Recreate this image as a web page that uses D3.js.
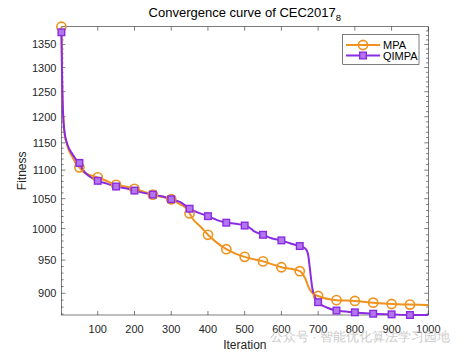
<!DOCTYPE html>
<html><head><meta charset="utf-8">
<script src="https://cdn.jsdelivr.net/npm/d3@7"></script>
<style>body{margin:0;background:#fff}svg{display:block}text{font-family:"Liberation Sans",Arial,Helvetica,sans-serif}</style>
</head><body>
<svg id="c" width="474" height="355"></svg>
<script>
const mpaIter = [1,2,3,4,6,8,10,15,20,30,40,50,60,75,100,120,150,175,200,225,250,275,300,320,340,350,360,380,400,425,450,475,500,550,600,650,655,665,675,685,700,750,800,850,900,950,1000];
const mpaVal  = [1389.6,1340,1280,1240,1200,1180,1165,1150,1138,1125,1113,1105,1097,1092,1087,1082,1074,1071,1067,1062,1057,1053,1049,1042,1034,1025,1015,1003,990,977,967,960,955,948,939,933,931,922,908,900,896,890,888.8,886.3,884.4,883.6,883];
const qimpaIter = [1,2,3,4,6,8,10,15,20,30,40,50,60,75,100,125,150,175,200,225,250,275,300,325,350,375,400,425,450,475,500,510,525,550,575,600,625,650,660,668,673,678,684,691,700,725,750,800,850,900,950,1000];
const qimpaVal  = [1377,1330,1270,1235,1200,1180,1168,1152,1142,1130,1120,1113,1100,1090,1081,1076,1071,1068,1064,1060,1057,1054,1049,1044,1033,1026,1020.5,1014,1009.7,1008,1005,1003,996,990,984,981,976,972,970,966,958,935,908,895,887,879,875,872.5,870.5,869.6,868.7,868.7];
const yTicks = [900,950,1000,1050,1100,1150,1200,1250,1300,1350];
const xTicks = [100,200,300,400,500,600,700,800,900,1000];
const seriesNames = ["MPA","QIMPA"];

const svg = d3.select("#c");
const L=61.4, R=428.3, T=26.7, B=315;
const x = d3.scaleLinear().domain([1,1000]).range([L,R]);
const y = d3.scaleLog().domain([868.7,1389.6]).range([B,T]);
const axisCol = "#262626";
const colors = ["#F0921E","#8A2BE2"];

// box
svg.append("rect").attr("x",L).attr("y",T).attr("width",R-L).attr("height",B-T)
  .attr("fill","none").attr("stroke",axisCol).attr("stroke-width",0.6);

// minor y ticks
const minor = d3.range(870,1390,10).filter(v=>v%50!==0);
const g = svg.append("g").attr("stroke",axisCol).attr("stroke-width",0.6);
minor.forEach(v=>{
  g.append("line").attr("x1",L).attr("x2",L+2.2).attr("y1",y(v)).attr("y2",y(v));
  g.append("line").attr("x1",R).attr("x2",R-2.2).attr("y1",y(v)).attr("y2",y(v));
});
yTicks.forEach(v=>{
  g.append("line").attr("x1",L).attr("x2",L+4).attr("y1",y(v)).attr("y2",y(v));
  g.append("line").attr("x1",R).attr("x2",R-4).attr("y1",y(v)).attr("y2",y(v));
  svg.append("text").attr("x",L-5).attr("y",y(v)+4).attr("text-anchor","end")
    .attr("font-size",11).attr("fill",axisCol).text(v);
});
xTicks.forEach(v=>{
  g.append("line").attr("x1",x(v)).attr("x2",x(v)).attr("y1",B).attr("y2",B-4);
  g.append("line").attr("x1",x(v)).attr("x2",x(v)).attr("y1",T).attr("y2",T+4);
  svg.append("text").attr("x",x(v)).attr("y",333).attr("text-anchor","middle")
    .attr("font-size",11).attr("fill",axisCol).text(v);
});

// watermark
svg.append("text").attr("x",270).attr("y",341).attr("font-size",12.5)
  .attr("font-family","'Noto Sans CJK SC',sans-serif").attr("fill","#c4c4c4")
  .attr("opacity",0.85).text("公众号 · 智能优化算法学习园地");

// titles
const title = svg.append("text").attr("x",(L+R)/2).attr("y",17).attr("text-anchor","middle")
  .attr("font-size",13).attr("fill","#000");
title.append("tspan").text("Convergence curve of CEC2017");
title.append("tspan").attr("font-size",9.5).attr("dy",4).text("8");
svg.append("text").attr("x",(L+R)/2).attr("y",349).attr("text-anchor","middle")
  .attr("font-size",12).attr("fill",axisCol).text("Iteration");
svg.append("text").attr("transform","translate(26,"+((T+B)/2)+") rotate(-90)")
  .attr("text-anchor","middle").attr("font-size",12).attr("fill",axisCol).text("Fitness");

// lines
const line = d3.line().x(d=>x(d[0])).y(d=>y(d[1])).curve(d3.curveMonotoneX);
const series = [mpaIter.map((v,i)=>[v,mpaVal[i]]), qimpaIter.map((v,i)=>[v,qimpaVal[i]])];
const isMarker = it => it===1 || (it%50===0 && it<1000);
series.forEach((s,k)=>{
  svg.append("path").attr("d",line(s)).attr("fill","none").attr("stroke",colors[k]).attr("stroke-width",2);
});
function marker(sel,k,cx,cy){
  if(k===0) sel.append("circle").attr("cx",cx).attr("cy",cy).attr("r",4.6)
      .attr("fill","none").attr("stroke",colors[0]).attr("stroke-width",1.6);
  else sel.append("rect").attr("x",cx-3.3).attr("y",cy-3.3).attr("width",6.6).attr("height",6.6)
      .attr("fill","#b277ec").attr("stroke",colors[1]).attr("stroke-width",1.4);
}
series.forEach((s,k)=>{
  s.filter(d=>isMarker(d[0])).forEach(d=>marker(svg,k,x(d[0]),y(d[1])));
});

// legend
const lg = svg.append("g");
lg.append("rect").attr("x",342.7).attr("y",34.3).attr("width",76.3).attr("height",30)
  .attr("fill","#fff").attr("stroke",axisCol).attr("stroke-width",0.6);
seriesNames.forEach((n,k)=>{
  const yy = 45 + k*10.5;
  lg.append("line").attr("x1",346).attr("x2",380).attr("y1",yy).attr("y2",yy)
    .attr("stroke",colors[k]).attr("stroke-width",2);
  marker(lg,k,363,yy);
  lg.append("text").attr("x",383).attr("y",yy+4).attr("font-size",11).attr("fill","#000").text(n);
});
</script>
</body></html>
